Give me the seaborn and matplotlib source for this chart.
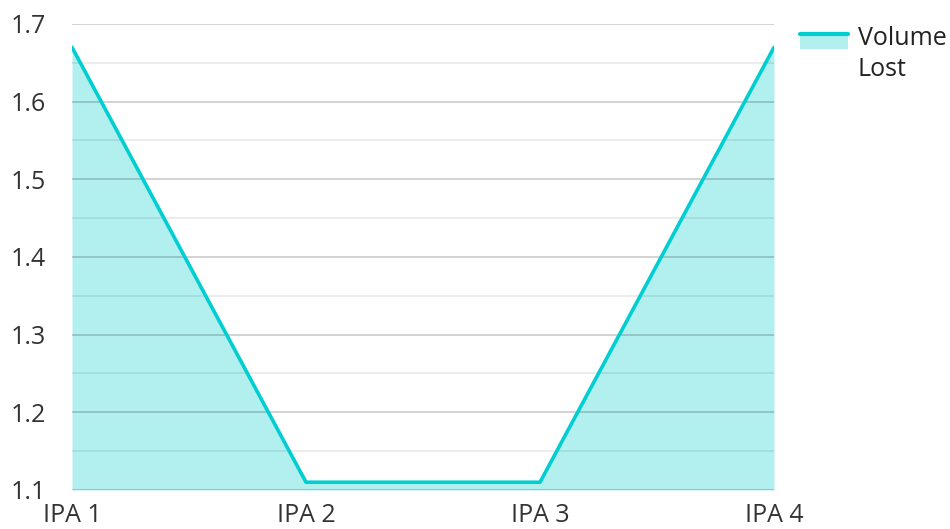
import matplotlib
matplotlib.use("Agg")
import matplotlib.pyplot as plt
from matplotlib.legend_handler import HandlerBase
from matplotlib.patches import Rectangle
from matplotlib.lines import Line2D
from matplotlib.ticker import MultipleLocator
import seaborn as sns
import pandas as pd

# data
categories = ["IPA 1", "IPA 2", "IPA 3", "IPA 4"]
volume_lost = [1.67, 1.11, 1.11, 1.67]
series_name = "Volume\nLost"

line_color = "#00CED1"
fill_color = "#B2EFEF"

sns.set_theme(style="white")
plt.rcParams["font.family"] = ["Open Sans", "DejaVu Sans"]


class AreaHandler(HandlerBase):
    """legend key: light fill box with the line along its top, beside the first text line"""
    def create_artists(self, legend, orig_handle, xdescent, ydescent,
                       width, height, fontsize, trans):
        shift = 0.82 * height
        y0 = -ydescent + shift
        rect = Rectangle((-xdescent, y0), width, height * 0.85,
                         facecolor=fill_color, edgecolor="none", transform=trans)
        y_top = y0 + height * 0.85
        line = Line2D([-xdescent, -xdescent + width], [y_top, y_top],
                      color=line_color, lw=3, transform=trans)
        return [rect, line]


df = pd.DataFrame({"x": range(len(categories)), "value": volume_lost})

fig = plt.figure(figsize=(9.5, 5.29), dpi=100)
ax = fig.add_axes([72 / 950, 39 / 529, 702 / 950, 466 / 529])

ax.fill_between(df["x"], df["value"], 1.1, color=fill_color, linewidth=0, zorder=2)
sns.lineplot(data=df, x="x", y="value", ax=ax, color=line_color, linewidth=2.6,
             zorder=3, legend=False)

ax.set_xlim(0, 3)
ax.set_ylim(1.1, 1.7)
ax.set_xticks(range(len(categories)))
ax.set_xticklabels(categories)
ax.yaxis.set_major_locator(MultipleLocator(0.1))
ax.yaxis.set_minor_locator(MultipleLocator(0.05))
ax.yaxis.set_major_formatter(plt.FuncFormatter(lambda v, p: f"{v:.1f}"))

ax.grid(axis="y", which="major", color="black", alpha=0.2, linewidth=1.2, zorder=2.5)
ax.grid(axis="y", which="minor", color="black", alpha=0.09, linewidth=1.2, zorder=2.5)
ax.grid(axis="x", visible=False)
ax.set_axisbelow(False)
for s in ax.spines.values():
    s.set_visible(False)

ax.tick_params(axis="both", which="both", length=0, labelsize=18, colors="#333333")
ax.tick_params(axis="x", pad=9)
ax.tick_params(axis="y", pad=19)
ax.set_xlabel("")
ax.set_ylabel("")

leg = fig.legend([object()], [series_name], handler_map={object: AreaHandler()},
                 loc="upper left", bbox_to_anchor=(800 / 950, 1 - 26 / 529),
                 frameon=False, fontsize=18, handlelength=1.9, handletextpad=0.4,
                 borderpad=0, borderaxespad=0, labelspacing=0.2,
                 labelcolor="#222222")
for t in leg.get_texts():
    t.set_linespacing(1.3)

fig.savefig("out.png", dpi=100)
